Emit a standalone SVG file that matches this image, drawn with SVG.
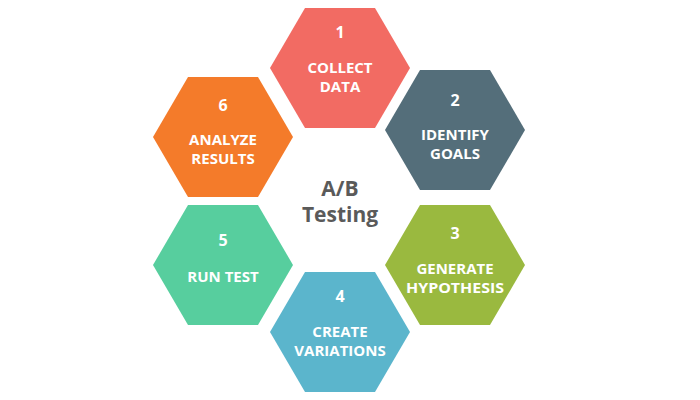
<svg xmlns="http://www.w3.org/2000/svg" width="700" height="400" viewBox="0 0 700 400">
<style>
text{font-family:"Open Sans","DejaVu Sans",sans-serif;font-weight:bold;text-anchor:middle;fill:#fff}
.n{font-size:16px}.l{font-size:15px}
.c{fill:#5a5a5a;font-size:21px}
</style>
<defs><polygon id="h" points="-70,0 -35,-60 35,-60 70,0 35,60 -35,60"/></defs>
<rect width="700" height="400" fill="#fff"/>
<g id="connectors"/>
<g id="n1" transform="translate(340,68)"><use href="#h" fill="#F26B63"/><text class="n" y="-30">1</text><text class="l" y="5">COLLECT</text><text class="l" y="24">DATA</text></g>
<g id="n2" transform="translate(455,130)"><use href="#h" fill="#546E7A"/><text class="n" y="-24">2</text><text class="l" y="10">IDENTIFY</text><text class="l" y="29">GOALS</text></g>
<g id="n3" transform="translate(455,265)"><use href="#h" fill="#9AB93F"/><text class="n" y="-26">3</text><text class="l" y="9">GENERATE</text><text class="l" y="28" textLength="98" lengthAdjust="spacingAndGlyphs">HYPOTHESIS</text></g>
<g id="n4" transform="translate(340,332)"><use href="#h" fill="#5BB5CC"/><text class="n" y="-30">4</text><text class="l" y="5">CREATE</text><text class="l" y="24">VARIATIONS</text></g>
<g id="n5" transform="translate(223,265)"><use href="#h" fill="#57CE9E"/><text class="n" y="-19">5</text><text class="l" y="17">RUN TEST</text></g>
<g id="n6" transform="translate(223,137)"><use href="#h" fill="#F47B2A"/><text class="n" y="-26">6</text><text class="l" y="8">ANALYZE</text><text class="l" y="27">RESULTS</text></g>
<g id="center"><text class="c" x="340" y="196">A/B</text><text class="c" x="340" y="222">Testing</text></g>
</svg>
